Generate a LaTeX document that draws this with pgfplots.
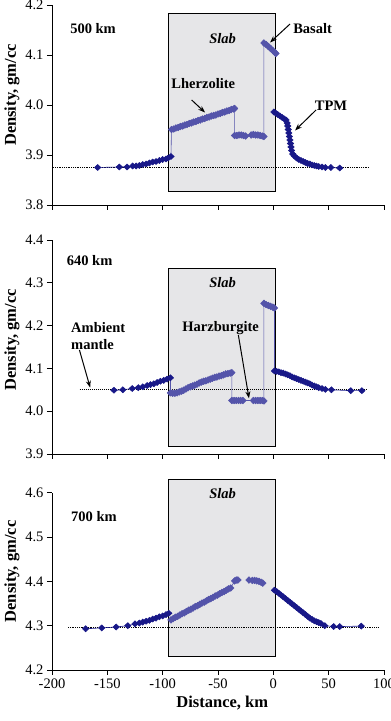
\documentclass[border=0pt]{standalone}
\usepackage{pgfplots}
\pgfplotsset{compat=1.18}
\usepackage{fontspec}
\setmainfont{Liberation Serif}
\usetikzlibrary{arrows.meta}
\definecolor{darkser}{RGB}{24,24,136}
\definecolor{slabser}{RGB}{84,84,170}
\definecolor{slabfill}{RGB}{230,230,232}
\pgfplotsset{
 panel/.style={
  scale only axis, width=332pt, xmin=-200, xmax=100,
  axis lines*=left, tick align=outside, major tick length=5pt,
  xtick={-200,-150,-100,-50,0,50,100},
  clip=false,
  axis line style={line width=0.8pt}, tick style={line width=0.8pt, black},
  ticklabel style={font=\fontsize{14.5}{16}\selectfont},
  /pgf/number format/assume math mode=true,
  yticklabel style={/pgf/number format/fixed,/pgf/number format/fixed zerofill,/pgf/number format/precision=1},
  ylabel={\textbf{Density, gm/cc}},
  ylabel style={font=\fontsize{16.5}{18}\selectfont, anchor=center},
 },
 dk/.style={darkser, line width=0.6pt, mark=diamond*, mark size=3pt, mark options={solid, xscale=1.4}},
 sl/.style={slabser, line width=0.6pt, mark=diamond*, mark size=3.3pt, mark options={solid, xscale=1.3}},
}
\tikzset{
 lbl/.style={font=\fontsize{14.5}{17}\selectfont\bfseries},
 slbl/.style={font=\fontsize{14.5}{17}\selectfont\bfseries\itshape},
 arr/.style={-{Stealth[length=7pt,width=5pt]}, line width=1pt, black},
}
\begin{document}
\begin{tikzpicture}
\useasboundingbox (0,0) rectangle (391pt,721pt);
% ---------------- Panel 1: 500 km
\begin{axis}[panel, at={(52pt,516pt)}, anchor=south west, height=200pt,
  ymin=3.8, ymax=4.2, ytick={3.8,3.9,4.0,4.1,4.2}, xticklabels={},
  ylabel style={at={(axis description cs:-0.1205,0.55)}}]
\addplot[fill=slabfill, draw=black, line width=1pt] coordinates {(-94.7,3.827) (2.3,3.827) (2.3,4.182) (-94.7,4.182)} -- cycle;
\addplot[black, densely dotted, line width=0.8pt] coordinates {(-199,3.875) (86,3.875)};
\addplot[dk] coordinates {(-158.7,3.875) (-139.2,3.876) (-132.2,3.876) (-127.1,3.878) (-124,3.878) (-121,3.879) (-118,3.881) (-115,3.882) (-112,3.884) (-109,3.886) (-106,3.887) (-103,3.889) (-100,3.891) (-97,3.892) (-95,3.894) (-92.5,3.897)};
\addplot[slabser, line width=0.6pt] coordinates {(-92.5,3.897) (-92,3.951)};
\addplot[sl] coordinates {(-92,3.951) (-90,3.952) (-88,3.954) (-86,3.955) (-84,3.957) (-82,3.958) (-80,3.960) (-78,3.961) (-76,3.963) (-74,3.964) (-72,3.966) (-70,3.967) (-68,3.969) (-66,3.970) (-64,3.972) (-62,3.973) (-60,3.975) (-58,3.976) (-56,3.978) (-54,3.979) (-52,3.980) (-50,3.982) (-48,3.983) (-46,3.985) (-44,3.986) (-42,3.988) (-40,3.989) (-38,3.991) (-36,3.992) (-35,3.993)
 (-35,3.939) (-33,3.939) (-31,3.940) (-29,3.940) (-27,3.939) (-25,3.938) (-20,3.940) (-18,3.941) (-16,3.940) (-14,3.940) (-12,3.939) (-10,3.938) (-8.5,3.937)
 (-8.5,4.124) (-6.5,4.121) (-4.5,4.117) (-2.5,4.113) (-0.5,4.109) (1.5,4.105) (2.3,4.103)};
\addplot[dk] coordinates {(0.5,3.986) (2,3.984) (4,3.981) (6,3.978) (8,3.975) (10,3.972) (11.5,3.970) (12.5,3.964) (13,3.958) (13.5,3.951) (14,3.944) (14.5,3.937) (15,3.930) (15.5,3.923) (16,3.916) (16.5,3.909) (17.5,3.902) (19,3.898) (21,3.894) (23,3.891) (25,3.889) (27,3.887) (29,3.885) (31,3.883) (33,3.882) (35,3.880) (37,3.879) (39,3.878) (41,3.877) (44,3.876) (47,3.875) (52,3.875) (60,3.874)};
\node[lbl, anchor=west] at (axis cs:-186.7,4.152) {500 km};
\node[slbl] at (axis cs:-45.8,4.133) {Slab};
\node[lbl] at (axis cs:35.5,4.152) {Basalt};
\draw[arr] (axis cs:15.1,4.162) -- (axis cs:-3,4.125);
\node[lbl] at (axis cs:-63.3,4.042) {Lherzolite};
\draw[arr] (axis cs:-73.8,4.010) -- (axis cs:-61.7,3.985);
\node[lbl] at (axis cs:52.1,3.998) {TPM};
\draw[arr] (axis cs:38.6,3.990) -- (axis cs:19.6,3.949);
\end{axis}
% ---------------- Panel 2: 640 km
\begin{axis}[panel, at={(52pt,267pt)}, anchor=south west, height=214pt,
  ymin=3.9, ymax=4.4, ytick={3.9,4.0,4.1,4.2,4.3,4.4}, xticklabels={},
  ylabel style={at={(axis description cs:-0.1205,0.533)}}]
\addplot[fill=slabfill, draw=black, line width=1pt] coordinates {(-94.7,3.917) (2.3,3.917) (2.3,4.334) (-94.7,4.334)} -- cycle;
\addplot[black, densely dotted, line width=1pt] coordinates {(-175,4.051) (84,4.051)};
\addplot[dk] coordinates {(-144,4.049) (-136,4.050) (-127.5,4.053) (-122,4.055) (-118,4.057) (-114,4.060) (-111,4.062) (-108,4.064) (-105,4.067) (-102,4.070) (-99,4.072) (-96,4.075) (-93,4.078)};
\addplot[slabser, line width=0.6pt] coordinates {(-93,4.078) (-93,4.043)};
\addplot[sl] coordinates {(-93,4.043) (-91,4.042) (-89,4.042) (-87,4.043) (-85,4.045) (-83,4.047) (-81,4.049) (-79,4.052) (-77,4.055) (-75,4.057) (-73,4.059) (-71,4.061) (-69,4.063) (-67,4.066) (-65,4.068) (-63,4.070) (-61,4.071) (-59,4.073) (-57,4.075) (-55,4.077) (-53,4.079) (-51,4.080) (-49,4.082) (-47,4.083) (-45,4.085) (-43,4.087) (-41,4.088) (-39,4.089) (-37.5,4.090)
 (-37.5,4.025) (-35.5,4.025) (-33.5,4.025) (-31.5,4.025) (-29.5,4.025) (-27.5,4.025) (-18,4.025) (-16,4.025) (-14,4.025) (-12,4.025) (-10,4.025) (-8.5,4.024)
 (-8.5,4.252) (-6.5,4.249) (-4.5,4.247) (-2.5,4.245) (-0.5,4.243) (1,4.241)};
\addplot[slabser, line width=0.6pt] coordinates {(1,4.241) (1,4.094)};
\addplot[dk] coordinates {(1,4.094) (3,4.093) (5,4.092) (7,4.090) (9,4.089) (11,4.087) (13,4.085) (15,4.083) (17,4.080) (19,4.078) (21,4.076) (23,4.074) (25,4.072) (27,4.070) (29,4.068) (31,4.066) (33,4.064) (35,4.061) (37,4.059) (39,4.057) (41,4.055) (44,4.053) (47,4.051) (52.5,4.050) (70,4.048) (80,4.048)};
\node[lbl, anchor=west] at (axis cs:-189.8,4.351) {640 km};
\node[slbl] at (axis cs:-45.8,4.301) {Slab};
\node[lbl, anchor=west, align=left] at (axis cs:-185.8,4.176) {Ambient\\mantle};
\draw[arr] (axis cs:-175.2,4.143) -- (axis cs:-165.5,4.055);
\node[lbl] at (axis cs:-47.6,4.195) {Harzburgite};
\draw[arr] (axis cs:-31.6,4.178) -- (axis cs:-22,4.030);
\end{axis}
% ---------------- Panel 3: 700 km
\begin{axis}[panel, at={(52pt,51pt)}, anchor=south west, height=177.3pt,
  ymin=4.2, ymax=4.6, ytick={4.2,4.3,4.4,4.5,4.6},
  xticklabels={-200,-150,-100,-50,0,50,100},
  xlabel={\textbf{Distance, km}},
  xlabel style={font=\fontsize{16.5}{18}\selectfont, at={(axis description cs:0.513,-0.186)}, anchor=center},
  ylabel style={at={(axis description cs:-0.1205,0.556)}}]
\addplot[fill=slabfill, draw=black, line width=1pt] coordinates {(-94.7,4.23) (2.3,4.23) (2.3,4.63) (-94.7,4.63)} -- cycle;
\addplot[black, densely dotted, line width=0.8pt] coordinates {(-185.5,4.296) (95,4.296)};
\addplot[dk] coordinates {(-169.6,4.293) (-155,4.295) (-142,4.297) (-131.5,4.300) (-125,4.304) (-121,4.306) (-118,4.308) (-115,4.310) (-112,4.312) (-109,4.315) (-106,4.317) (-103,4.320) (-100,4.322) (-97,4.325) (-94.5,4.328)};
\addplot[sl] coordinates {(-92.5,4.313) (-90.5,4.316) (-88.5,4.319) (-86.5,4.321) (-84.5,4.324) (-82.5,4.327) (-80.5,4.329) (-78.5,4.332) (-76.5,4.335) (-74.5,4.337) (-72.5,4.340) (-70.5,4.343) (-68.5,4.345) (-66.5,4.348) (-64.5,4.351) (-62.5,4.353) (-60.5,4.356) (-58.5,4.359) (-56.5,4.361) (-54.5,4.364) (-52.5,4.367) (-50.5,4.369) (-48.5,4.372) (-46.5,4.375) (-44.5,4.377) (-42.5,4.380) (-40.5,4.383) (-38.5,4.385) (-35,4.401) (-33.5,4.403) (-32,4.403)};
\addplot[sl] coordinates {(-22,4.403) (-19,4.402) (-17,4.402) (-15,4.401) (-13,4.400) (-11,4.398) (-9.5,4.396)};
\addplot[dk] coordinates {(1,4.380) (3,4.377) (5,4.373) (7,4.369) (9,4.365) (11,4.361) (13,4.357) (15,4.353) (17,4.349) (19,4.345) (21,4.341) (23,4.337) (25,4.333) (27,4.329) (29,4.325) (31,4.321) (33,4.317) (35,4.314) (37,4.311) (39,4.309) (41,4.307) (43,4.305) (46.5,4.300) (54.5,4.298) (60,4.298) (79.5,4.299)};
\node[lbl, anchor=west] at (axis cs:-185.8,4.546) {700 km};
\node[slbl] at (axis cs:-45.8,4.597) {Slab};
\end{axis}
\end{tikzpicture}
\end{document}
